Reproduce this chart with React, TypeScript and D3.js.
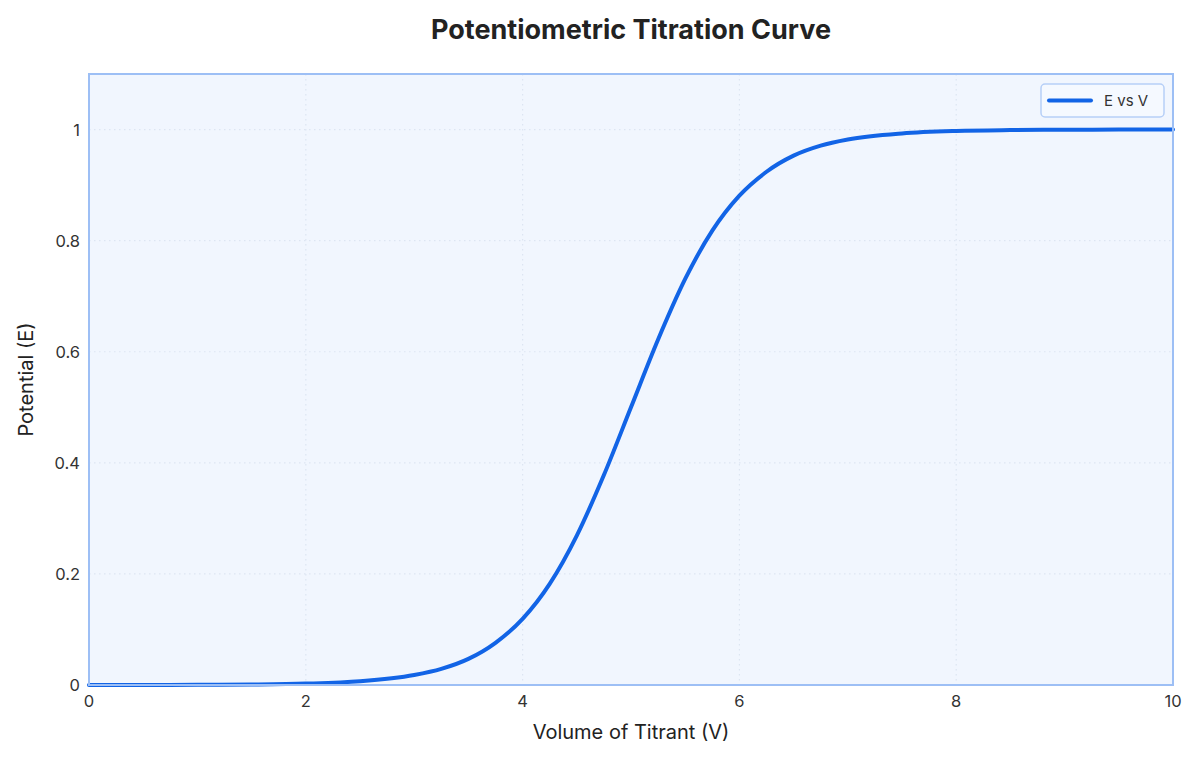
import React, { useRef, useEffect } from 'react';
import * as d3 from 'd3';

const volume = [0, 0.5, 1, 1.5, 2, 2.5, 3, 3.25, 3.5, 3.75, 4, 4.25, 4.5, 4.75, 5, 5.25, 5.5, 5.75, 6, 6.25, 6.5, 6.75, 7, 7.5, 8, 8.5, 9, 9.5, 10];
const potential = [0.0, 0.0001, 0.0003, 0.0009, 0.0025, 0.0067, 0.018, 0.029, 0.047, 0.076, 0.119, 0.182, 0.269, 0.378, 0.5, 0.622, 0.731, 0.818, 0.881, 0.924, 0.953, 0.971, 0.982, 0.993, 0.9975, 0.9991, 0.9997, 0.9999, 1.0];

const xTicks = [0, 2, 4, 6, 8, 10];
const yTicks = [0, 0.2, 0.4, 0.6, 0.8, 1];

const W = 1200;
const H = 761;
const margin = { top: 74, right: 27, bottom: 76, left: 89 };
const FONT = "Inter, 'Noto Sans', sans-serif";

const App = () => {
    const ref = useRef<SVGSVGElement | null>(null);

    useEffect(() => {
        const svg = d3.select(ref.current);
        svg.selectAll("*").remove();

        const x = d3.scaleLinear().domain([0, 10]).range([margin.left, W - margin.right]);
        const y = d3.scaleLinear().domain([0, 1.1]).range([H - margin.bottom, margin.top]);

        svg.append("rect").attr("width", W).attr("height", H).attr("fill", "#ffffff");

        // plot background
        svg.append("rect")
            .attr("x", margin.left).attr("y", margin.top)
            .attr("width", W - margin.left - margin.right)
            .attr("height", H - margin.top - margin.bottom)
            .attr("fill", "#f1f6fe");

        // grid
        const grid = svg.append("g");
        grid.selectAll(".gx").data(xTicks.slice(1, -1)).enter().append("line")
            .attr("x1", d => x(d)).attr("x2", d => x(d))
            .attr("y1", margin.top).attr("y2", H - margin.bottom)
            .attr("stroke", "#dde5f2").attr("stroke-width", 1.2).attr("stroke-dasharray", "1.5,3.5");
        grid.selectAll(".gy").data(yTicks.slice(1)).enter().append("line")
            .attr("y1", d => y(d)).attr("y2", d => y(d))
            .attr("x1", margin.left).attr("x2", W - margin.right)
            .attr("stroke", "#dde5f2").attr("stroke-width", 1.2).attr("stroke-dasharray", "1.5,3.5");

        // curve
        const pts = volume.map((v, i) => [v, potential[i]] as [number, number]);
        const line = d3.line<[number, number]>()
            .x(d => x(d[0])).y(d => y(d[1]))
            .curve(d3.curveMonotoneX);
        svg.append("path").datum(pts)
            .attr("d", line)
            .attr("fill", "none")
            .attr("stroke", "#1264e6")
            .attr("stroke-width", 4)
            .attr("stroke-linecap", "round");

        // frame
        svg.append("rect")
            .attr("x", margin.left).attr("y", margin.top)
            .attr("width", W - margin.left - margin.right)
            .attr("height", H - margin.top - margin.bottom)
            .attr("fill", "none")
            .attr("stroke", "#9dbff5").attr("stroke-width", 2);

        // tick labels
        svg.append("g").selectAll("text").data(xTicks).enter().append("text")
            .attr("x", d => x(d)).attr("y", H - margin.bottom + 22)
            .attr("text-anchor", "middle")
            .style("font-family", FONT).style("font-size", "16.5px").attr("fill", "#333")
            .text(d => d3.format("~g")(d));
        svg.append("g").selectAll("text").data(yTicks).enter().append("text")
            .attr("x", margin.left - 9).attr("y", d => y(d) + 6)
            .attr("text-anchor", "end")
            .style("font-family", FONT).style("font-size", "16.5px").attr("fill", "#333")
            .text(d => d3.format("~g")(d));

        // axis titles
        svg.append("text")
            .attr("x", (margin.left + W - margin.right) / 2).attr("y", 739)
            .attr("text-anchor", "middle")
            .style("font-family", FONT).style("font-size", "20px").attr("fill", "#222")
            .text("Volume of Titrant (V)");
        svg.append("text")
            .attr("transform", `translate(33,${(margin.top + H - margin.bottom) / 2}) rotate(-90)`)
            .attr("text-anchor", "middle")
            .style("font-family", FONT).style("font-size", "20px").attr("fill", "#222")
            .text("Potential (E)");

        // title
        svg.append("text")
            .attr("x", (margin.left + W - margin.right) / 2).attr("y", 39)
            .attr("text-anchor", "middle")
            .style("font-family", FONT).style("font-size", "27px").style("font-weight", "bold").attr("fill", "#222")
            .text("Potentiometric Titration Curve");

        // legend
        const lg = svg.append("g").attr("transform", "translate(1041,84)");
        lg.append("rect").attr("width", 123).attr("height", 33).attr("rx", 4)
            .attr("fill", "#f5f9ff").attr("stroke", "#b6cff7").attr("stroke-width", 1.5);
        lg.append("line").attr("x1", 8).attr("x2", 50).attr("y1", 16.5).attr("y2", 16.5)
            .attr("stroke", "#1264e6").attr("stroke-width", 4).attr("stroke-linecap", "round");
        lg.append("text").attr("x", 63).attr("y", 22)
            .style("font-family", FONT).style("font-size", "15px").attr("fill", "#333")
            .text("E vs V");
    }, []);

    return (
        <svg ref={ref} width={W} height={H}
            style={{ position: "absolute", left: 0, top: 0, display: "block" }} />
    );
};

export default App;
